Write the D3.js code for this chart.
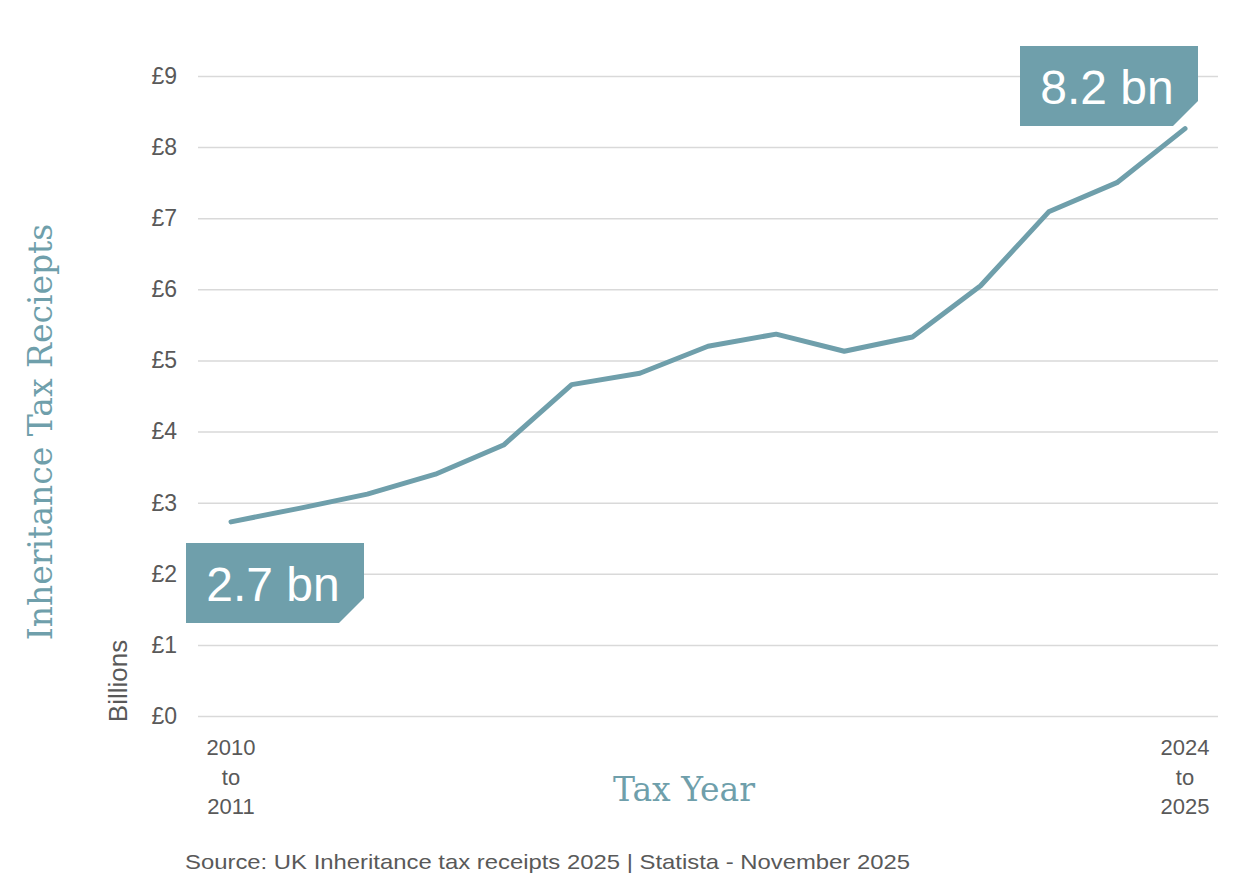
<!DOCTYPE html>
<html>
<head>
<meta charset="utf-8">
<script src="https://cdn.jsdelivr.net/npm/d3@7"></script>
<style>
  body { margin: 0; background: #fff; }
  svg { display: block; }
</style>
</head>
<body>
<div id="chart"></div>
<script>
// chart data
const taxYears = ["2010 to 2011", "2011 to 2012", "2012 to 2013", "2013 to 2014", "2014 to 2015",
  "2015 to 2016", "2016 to 2017", "2017 to 2018", "2018 to 2019", "2019 to 2020",
  "2020 to 2021", "2021 to 2022", "2022 to 2023", "2023 to 2024", "2024 to 2025"];
const receipts = [2.73, 2.92, 3.12, 3.40, 3.81, 4.66, 4.82, 5.20, 5.37, 5.13, 5.33, 6.05, 7.09, 7.50, 8.26];
const yTicks = [0, 1, 2, 3, 4, 5, 6, 7, 8, 9];
const labelledYears = ["2010 to 2011", "2024 to 2025"];
const callouts = [
  {year: "2010 to 2011", text: "2.7 bn"},
  {year: "2024 to 2025", text: "8.2 bn"}
];

const width = 1260;
const height = 890;
const margin = {left: 198, right: 42, top: 76, bottom: 174};
const teal = "#6f9fab";
const grey = "#595959";
const sans = "'Liberation Sans', Arial, sans-serif";
const serif = "'DejaVu Serif', 'Liberation Serif', serif";

const svg = d3.select("#chart")
  .append("svg")
  .attr("width", width)
  .attr("height", height);

// scales
const xScale = d3.scalePoint()
  .domain(taxYears)
  .range([231, 1185]);

const yScale = d3.scaleLinear()
  .domain([0, 9])
  .range([height - margin.bottom, margin.top]);

// gridlines + y labels
const yAxis = svg.append("g")
  .attr("transform", `translate(${margin.left},0)`)
  .call(d3.axisLeft(yScale)
    .tickValues(yTicks)
    .tickSize(-(width - margin.left - margin.right))
    .tickPadding(21)
    .tickFormat(d => "£" + d));
yAxis.select(".domain").remove();
yAxis.selectAll(".tick line").attr("stroke", "#d9d9d9").attr("stroke-width", 1.5);
yAxis.selectAll(".tick text")
  .attr("fill", grey)
  .attr("font-family", sans)
  .attr("font-size", "23px");

// x labels, only first and last
const xLabels = svg.append("g")
  .selectAll("text")
  .data(labelledYears)
  .enter()
  .append("text")
    .attr("x", d => xScale(d))
    .attr("y", 755)
    .attr("text-anchor", "middle")
    .attr("fill", grey)
    .attr("font-family", sans)
    .attr("font-size", "22px");
xLabels.selectAll("tspan")
  .data(d => d.split(" "))
  .enter()
  .append("tspan")
    .attr("x", function() { return d3.select(this.parentNode).attr("x"); })
    .attr("dy", (d, i) => i === 0 ? 0 : 29.5)
    .text(d => d);

// line
const line = d3.line()
  .x((d, i) => xScale(taxYears[i]))
  .y(d => yScale(d));

svg.append("path")
  .datum(receipts)
  .attr("fill", "none")
  .attr("stroke", teal)
  .attr("stroke-width", 5)
  .attr("stroke-linejoin", "round")
  .attr("stroke-linecap", "round")
  .attr("d", line);

// callout boxes with a clipped corner
const boxW = 178, boxH = 80, cut = 25;
const boxPos = [
  {left: 186, top: 543},
  {left: 1020, top: 46}
];
callouts.forEach((c, i) => {
  const x0 = boxPos[i].left, y0 = boxPos[i].top;
  const g = svg.append("g");
  g.append("path")
    .attr("d", `M${x0},${y0}H${x0 + boxW}V${y0 + boxH - cut}L${x0 + boxW - cut},${y0 + boxH}H${x0}Z`)
    .attr("fill", teal);
  g.append("text")
    .attr("x", x0 + boxW / 2 - 2)
    .attr("y", y0 + 58)
    .attr("text-anchor", "middle")
    .attr("fill", "#fff")
    .attr("font-family", sans)
    .attr("font-size", "48px")
    .text(c.text);
});

// axis titles
svg.append("text")
  .attr("transform", "translate(52,432) rotate(-90)")
  .attr("text-anchor", "middle")
  .attr("fill", teal)
  .attr("font-family", serif)
  .attr("font-size", "33px")
  .text("Inheritance Tax Reciepts");

svg.append("text")
  .attr("transform", "translate(127,681) rotate(-90)")
  .attr("text-anchor", "middle")
  .attr("fill", grey)
  .attr("font-family", sans)
  .attr("font-size", "26px")
  .text("Billions");

svg.append("text")
  .attr("x", 684)
  .attr("y", 801)
  .attr("text-anchor", "middle")
  .attr("fill", teal)
  .attr("font-family", serif)
  .attr("font-size", "33px")
  .text("Tax Year");

svg.append("text")
  .attr("x", 185)
  .attr("y", 869)
  .attr("fill", grey)
  .attr("font-family", sans)
  .attr("font-size", "21px")
  .attr("textLength", 725)
  .attr("lengthAdjust", "spacingAndGlyphs")
  .text("Source: UK Inheritance tax receipts 2025 | Statista - November 2025");
</script>
</body>
</html>
